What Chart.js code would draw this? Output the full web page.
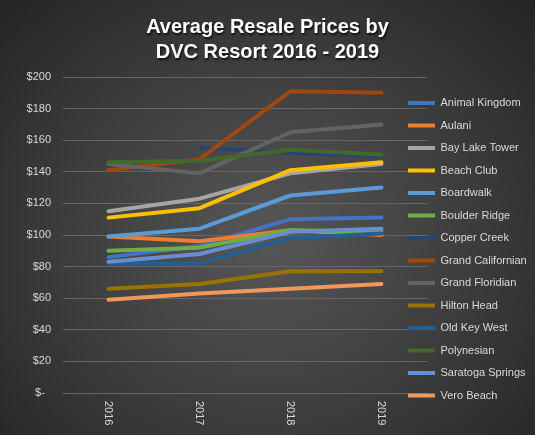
<!DOCTYPE html>
<html>
<head>
<meta charset="utf-8">
<script src="https://cdn.jsdelivr.net/npm/chart.js@4/dist/chart.umd.min.js"></script>
<style>
  html, body { margin: 0; padding: 0; }
  body {
    width: 535px; height: 435px; overflow: hidden;
    background: radial-gradient(ellipse at 50% 55%, #575757 0%, #3c3c3c 55%, #242424 100%);
  }
  #wrap { position: relative; width: 535px; height: 435px; }
</style>
</head>
<body>
<div id="wrap"><canvas id="chart"></canvas></div>
<script>
// years on the x axis
const years = ["2016", "2017", "2018", "2019"];

// average resale price per point
const animalKingdom = [86, 93, 110, 111];
const aulani = [99, 96, 103, 100];
const bayLakeTower = [115, 123, 139, 145];
const beachClub = [111, 117, 141, 146];
const boardwalk = [99, 104, 125, 130];
const boulderRidge = [90, 92, 103, 102];
const copperCreek = [null, 155, 152, 150];
const grandCalifornian = [141, 148, 191, 190];
const grandFloridian = [145, 139, 165, 170];
const hiltonHead = [66, 69, 77, 77];
const oldKeyWest = [82, 82, 98, 101];
const polynesian = [146, 147, 154, 151];
const saratogaSprings = [83, 88, 102, 104];
const veroBeach = [59, 63, 66, 69];

const resorts = [
    ["Animal Kingdom", animalKingdom, "#4472C4"],
    ["Aulani", aulani, "#ED7D31"],
    ["Bay Lake Tower", bayLakeTower, "#A5A5A5"],
    ["Beach Club", beachClub, "#FFC000"],
    ["Boardwalk", boardwalk, "#5B9BD5"],
    ["Boulder Ridge", boulderRidge, "#70AD47"],
    ["Copper Creek", copperCreek, "#264478"],
    ["Grand Californian", grandCalifornian, "#9E480E"],
    ["Grand Floridian", grandFloridian, "#636363"],
    ["Hilton Head", hiltonHead, "#997300"],
    ["Old Key West", oldKeyWest, "#255E91"],
    ["Polynesian", polynesian, "#43682B"],
    ["Saratoga Springs", saratogaSprings, "#698ED0"],
    ["Vero Beach", veroBeach, "#F1975A"],
];

const yTicks = [0, 20, 40, 60, 80, 100, 120, 140, 160, 180, 200];

const textColor = "#d9d9d9";
const baseFont = "'Liberation Sans', Arial, sans-serif";

// excel draws the later series on top, chart.js the opposite
const datasets = resorts.map(([name, values, color], i) => ({
    label: name,
    data: values,
    borderColor: color,
    backgroundColor: color,
    borderWidth: 4,
    borderCapStyle: "round",
    borderJoinStyle: "round",
    pointRadius: 0,
    pointHoverRadius: 0,
    tension: 0,
    fill: false,
    spanGaps: false,
    order: resorts.length - i,
}));

// legend sits over the right edge of the plot like in excel
const legendPlacement = {
    id: "legendPlacement",
    afterInit(chart) {
        const fit = chart.legend.fit;
        chart.legend.fit = function () {
            fit.call(this);
            this.width = 108;
        };
        // soft shadow under the title text
        const title = chart.titleBlock;
        const drawTitle = title.draw;
        title.draw = function () {
            const ctx = this.ctx;
            ctx.save();
            ctx.shadowColor = "rgba(0,0,0,0.7)";
            ctx.shadowOffsetX = 1;
            ctx.shadowOffsetY = 1.5;
            ctx.shadowBlur = 2;
            drawTitle.apply(this, arguments);
            ctx.restore();
        };
    },
    afterLayout(chart) {
        const lg = chart.legend;
        const pad = lg.options.labels.padding;
        const area = chart.chartArea;
        lg.left = area.right - 19 - pad;
        lg.right = chart.width;
        lg.width = lg.right - lg.left;
        lg.top = area.top + 20.5 - pad;
    },
};

// year labels read top to bottom
const yearLabels = {
    id: "yearLabels",
    afterDraw(chart) {
        const { ctx, chartArea } = chart;
        const xScale = chart.scales.x;
        ctx.save();
        ctx.font = "11px " + baseFont;
        ctx.fillStyle = textColor;
        ctx.textAlign = "left";
        ctx.textBaseline = "middle";
        years.forEach((year, i) => {
            ctx.save();
            ctx.translate(xScale.getPixelForValue(i), chartArea.bottom + 8);
            ctx.rotate(Math.PI / 2);
            ctx.fillText(year, 0, 0);
            ctx.restore();
        });
        ctx.restore();
    },
};

new Chart(document.getElementById("chart"), {
    type: "line",
    data: { labels: years, datasets },
    options: {
        responsive: true,
        maintainAspectRatio: false,
        animation: false,
        layout: { padding: 0 },
        plugins: {
            title: {
                display: true,
                text: ["Average Resale Prices by", "DVC Resort 2016 - 2019"],
                color: "#ffffff",
                font: { family: baseFont, size: 20, weight: "bold", lineHeight: 1.25 },
                padding: { top: 15, bottom: 12 },
            },
            legend: {
                position: "right",
                align: "start",
                labels: {
                    color: textColor,
                    font: { family: baseFont, size: 11 },
                    boxWidth: 27,
                    boxHeight: 4,
                    padding: 11.5,
                    sort: (a, b) => a.datasetIndex - b.datasetIndex,
                    generateLabels(chart) {
                        const items = Chart.defaults.plugins.legend.labels.generateLabels(chart);
                        return items.map((it) => ({ ...it, fillStyle: it.strokeStyle, lineWidth: 0 }));
                    },
                },
            },
            tooltip: { enabled: false },
        },
        scales: {
            x: {
                offset: true,
                grid: { display: false },
                border: { display: false },
                ticks: { display: false },
                afterFit(scale) { scale.height = 42; },
            },
            y: {
                min: 0,
                max: 200,
                afterBuildTicks(scale) {
                    scale.ticks = yTicks.map((v) => ({ value: v }));
                },
                afterFit(scale) { scale.width = 63; },
                grid: { color: "#666666", lineWidth: 1, drawTicks: false },
                border: { display: false },
                ticks: {
                    color: textColor,
                    font: { family: baseFont, size: 11 },
                    padding: 12,
                    callback: (v) => (v === 0 ? "$-  " : "$" + v),
                },
            },
        },
    },
    plugins: [legendPlacement, yearLabels],
});
</script>
</body>
</html>
